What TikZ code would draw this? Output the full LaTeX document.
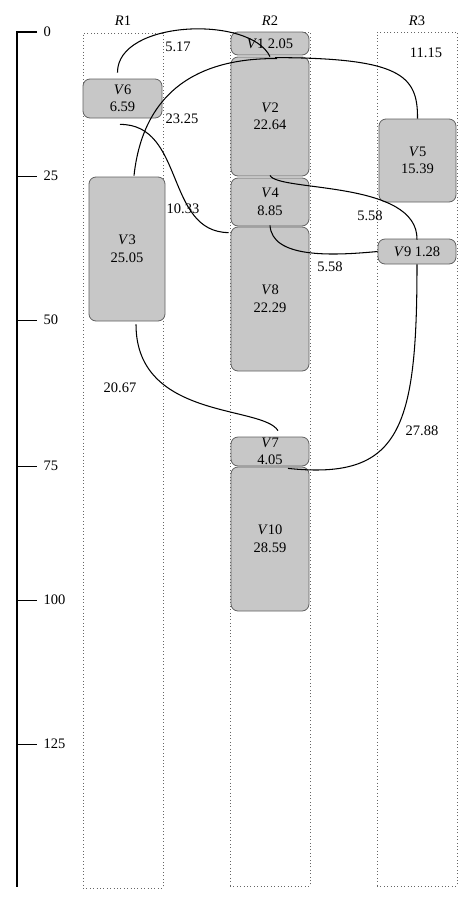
\documentclass[tikz,border=0pt]{standalone}
\usepackage{fontspec}
\setmainfont{Liberation Serif}

\begin{document}
\begin{tikzpicture}[x=1pt, y=-1pt,
    font=\fontsize{14.5}{17.5}\selectfont,
    region/.style={draw=black!60, dash pattern=on 1pt off 2.4pt, line width=0.9pt, inner sep=0pt},
    vbox/.style={draw=black!62, fill=black!22, rounded corners=7pt, line width=0.8pt, align=center, inner sep=0pt},
    link/.style={line width=1.05pt}]
    \useasboundingbox (0,0) rectangle (474,906);

    \draw[line width=1.3pt] (37,32) -- (17,32) -- (17,887);
    \node[anchor=west] (t0) at (40,32) {0};
    \foreach \y/\v in {176/25, 320/50, 466/75, 600/100, 744/125} {
        \draw[line width=1pt] (17,\y) -- (37,\y);
        \node[anchor=west] (t\v) at (40,\y) {\v};
    }

    \node[region, minimum width=80, minimum height=855] (r1) at (123,460.5) {};
    \node[region, minimum width=80, minimum height=854] (r2) at (270,459) {};
    \node[region, minimum width=80, minimum height=854] (r3) at (417,459) {};
    \node (r1lab) at (123,21) {\textit{R}1};
    \node (r2lab) at (270,21) {\textit{R}2};
    \node (r3lab) at (417,21) {\textit{R}3};

    \node[vbox, minimum width=78, minimum height=23] (v1) at (270,43.5) {\textit{V}1 2.05};
    \node[vbox, minimum width=78, minimum height=119] (v2) at (270,116.5) {\textit{V}2\\22.64};
    \node[vbox, minimum width=78, minimum height=48] (v4) at (270,202) {\textit{V}4\\8.85};
    \node[vbox, minimum width=78, minimum height=144] (v8) at (270,299) {\textit{V}8\\22.29};
    \node[vbox, minimum width=78, minimum height=29] (v7) at (270,451.5) {\textit{V}7\\4.05};
    \node[vbox, minimum width=78, minimum height=144] (v10) at (270,539) {\textit{V}10\\28.59};
    \node[vbox, minimum width=79, minimum height=39] (v6) at (122.5,98.5) {\textit{V}6\\6.59};
    \node[vbox, minimum width=76, minimum height=144] (v3) at (127,249) {\textit{V}3\\25.05};
    \node[vbox, minimum width=77, minimum height=83] (v5) at (417.5,160.5) {\textit{V}5\\15.39};
    \node[vbox, minimum width=78, minimum height=25] (v9) at (417,251.5) {\textit{V}9 1.28};

    \draw[link] ([shift={(-5,-6)}]v6.north) .. controls (117,20) and (250,15) .. (v2.north);
    \draw[link] ([shift={(7,-1)}]v3.north) .. controls (145,75) and (220,58) .. ([shift={(7,2)}]v2.north);
    \draw[link] ([shift={(5,1)}]v2.north) .. controls (400,58) and (418,75) .. (v5.north);
    \draw[link] ([shift={(-2.5,6)}]v6.south) .. controls (185,124) and (165,232) .. ([shift={(-2,6)}]v8.north west);
    \draw[link] ([yshift=1]v2.south) .. controls (278,192) and (418,180) .. ([yshift=-1]v9.north);
    \draw[link] ([yshift=1]v4.south) .. controls (272,258) and (330,256) .. (v9.west);
    \draw[link] ([shift={(9,3)}]v3.south) .. controls (136,420) and (262,405) .. ([shift={(8,-6)}]v7.north);
    \draw[link] (v9.south) .. controls (417,430) and (400,480) .. ([shift={(18,2)}]v7.south);

    \node (w1) at (178,47) {5.17};
    \node (w2) at (182,119) {23.25};
    \node (w3) at (183,209) {10.33};
    \node (w4) at (426,53) {11.15};
    \node (w5) at (370,216) {5.58};
    \node (w6) at (330,267) {5.58};
    \node (w7) at (120,388) {20.67};
    \node (w8) at (422,431) {27.88};
\end{tikzpicture}
\end{document}
